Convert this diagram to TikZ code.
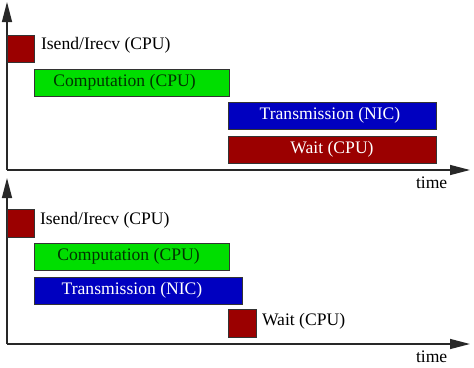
\documentclass[tikz,border=0pt]{standalone}
\usepackage{fontspec}
\setmainfont{Liberation Serif}
\usetikzlibrary{arrows.meta}
\definecolor{cpured}{RGB}{155,0,0}
\definecolor{compgreen}{RGB}{0,222,0}
\definecolor{nicblue}{RGB}{0,0,192}
\definecolor{axisgray}{RGB}{40,40,40}
\begin{document}
\begin{tikzpicture}[x=1pt,y=-1pt,
  every node/.style={font=\fontsize{17.6}{20}\selectfont, inner sep=0pt, outer sep=0pt},
  bar/.style={draw=black!80, line width=0.8pt},
  redbar/.style={bar, fill=cpured},
  greenbar/.style={bar, fill=compgreen},
  bluebar/.style={bar, fill=nicblue},
  axis/.style={draw=axisgray, line width=1.4pt, -{Triangle[length=20pt,width=10pt]}}]
\useasboundingbox (0,0) rectangle (474,367);
% ---------- top panel ----------
\coordinate (o1) at (7,170);
\coordinate (y1) at (7,2);
\coordinate (x1) at (470,170);
\draw[axis] (o1) -- (y1);
\draw[axis] (o1) -- (x1);
\node[redbar, minimum width=27pt, minimum height=27pt, anchor=north west] (is1) at (7,35) {};
\node[anchor=base west] (isl1) at (41,49) {Isend/Irecv (CPU)};
\node[greenbar, minimum width=195pt, minimum height=27pt, anchor=north west] (co1) at (34,69) {};
\node (col1) at (co1.center) [xshift=-7pt, text=black!80!green] {Computation (CPU)};
\node[bluebar, minimum width=208pt, minimum height=27pt, anchor=north west] (tr1) at (228,102) {};
\node (trl1) at (tr1.center) [xshift=-2pt, text=white] {Transmission (NIC)};
\node[redbar, minimum width=208pt, minimum height=27pt, anchor=north west, text=white] (wa1) at (228,136) {Wait (CPU)};
\node[anchor=base west] (t1) at (416,188) {time};
% ---------- bottom panel ----------
\coordinate (o2) at (7,344);
\coordinate (y2) at (7,178);
\coordinate (x2) at (470,344);
\draw[axis] (o2) -- (y2);
\draw[axis] (o2) -- (x2);
\node[redbar, minimum width=27pt, minimum height=28pt, anchor=north west] (is2) at (7,209) {};
\node[anchor=base west] (isl2) at (40,224) {Isend/Irecv (CPU)};
\node[greenbar, minimum width=195pt, minimum height=27pt, anchor=north west] (co2) at (34,243) {};
\node (col2) at (co2.center) [xshift=-3pt, text=black!80!green] {Computation (CPU)};
\node[bluebar, minimum width=208pt, minimum height=27pt, anchor=north west] (tr2) at (34,277) {};
\node (trl2) at (tr2.center) [xshift=-6pt, text=white] {Transmission (NIC)};
\node[redbar, minimum width=28pt, minimum height=28pt, anchor=north west] (wa2) at (228,309) {};
\node[anchor=base west] (wl2) at (262,325) {Wait (CPU)};
\node[anchor=base west] (t2) at (416,362.5) {time};
\end{tikzpicture}
\end{document}
